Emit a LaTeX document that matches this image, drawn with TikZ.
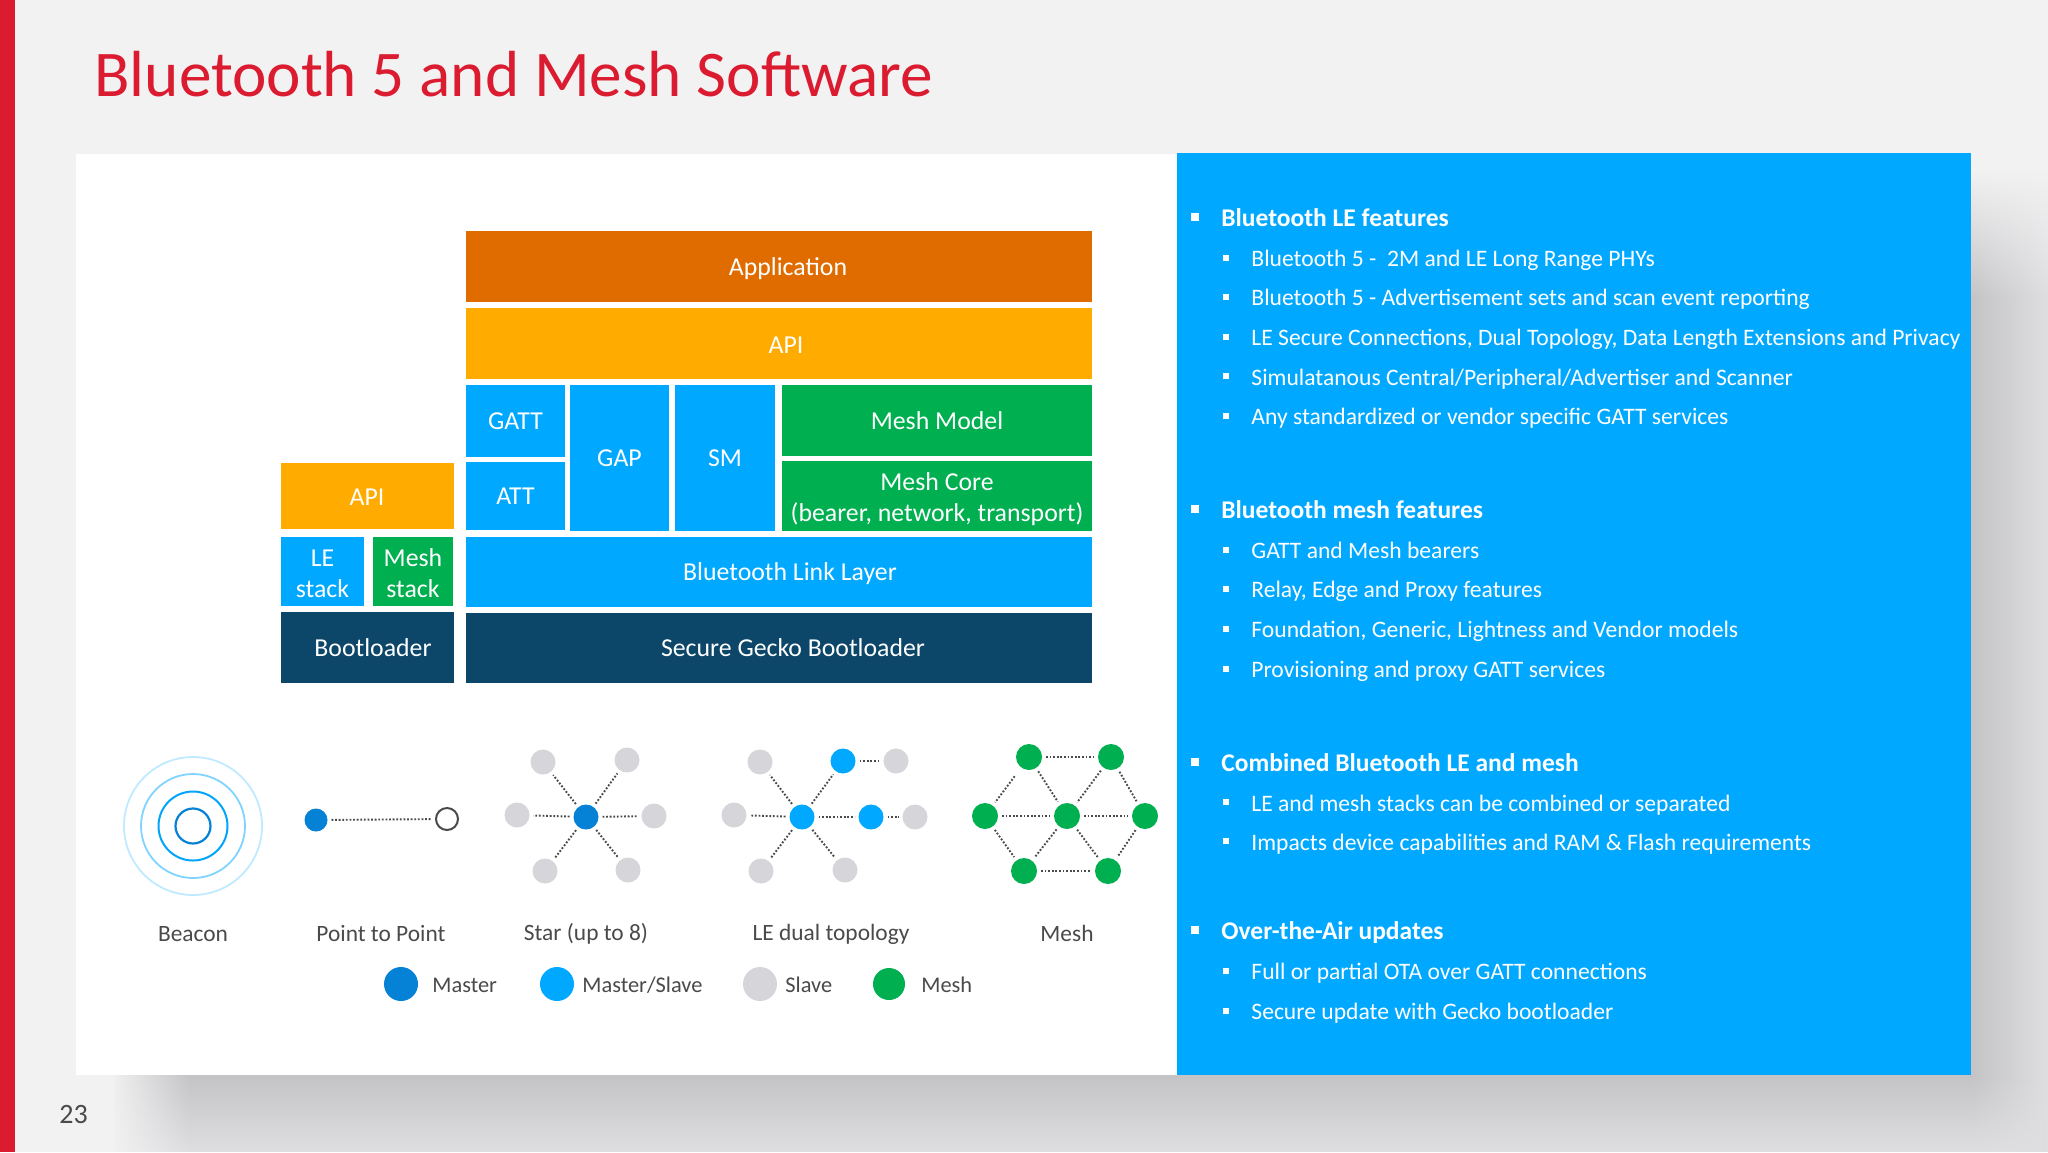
\documentclass[tikz,border=0pt]{standalone}
\usepackage{fontspec}
\setmainfont{Carlito}
\usetikzlibrary{fadings}

\definecolor{pagebg}{HTML}{F2F2F3}
\definecolor{shadowgrey}{HTML}{C4C3C5}
\definecolor{shadowend}{HTML}{DFDFE1}
\definecolor{slidered}{HTML}{DB1C30}
\definecolor{skyblue}{HTML}{00A9FF}
\definecolor{meshgreen}{HTML}{00AF50}
\definecolor{burnt}{HTML}{E06C00}
\definecolor{amber}{HTML}{FFAB00}
\definecolor{navy}{HTML}{0C4668}
\definecolor{masterblue}{HTML}{0581D5}
\definecolor{slavegrey}{HTML}{D6D5D9}
\definecolor{textgrey}{HTML}{4A4A4C}

\tikzset{
  block/.style 2 args={inner sep=0pt, outer sep=0pt, minimum width=#1*0.5pt, minimum height=#2*0.5pt},
  blocktext/.style={text=white, align=center, font=\fontsize{12.9}{15.5}\selectfont},
  caption/.style={text=textgrey, font=\fontsize{11.7}{14}\selectfont},
  keytext/.style={text=textgrey, anchor=west, inner sep=0pt, font=\fontsize{11.2}{14}\selectfont},
  dot/.style={circle, inner sep=0pt, outer sep=2pt, minimum size=12.5pt},
  master/.style={dot, fill=masterblue},
  both/.style={dot, fill=skyblue},
  slave/.style={dot, fill=slavegrey},
  meshdot/.style={dot, fill=meshgreen, minimum size=13pt},
  link/.style={draw=textgrey, line width=0.95pt, dash pattern=on 0.9pt off 0.9pt},
  ring/.style={circle, draw, fill=none, inner sep=0pt},
  key/.style={circle, inner sep=0pt, minimum size=17pt},
  headtext/.style={anchor=base west, text=white, inner sep=0pt, font=\fontsize{12.75}{14}\selectfont\bfseries},
  subtext/.style={anchor=base west, text=white, inner sep=0pt, font=\fontsize{11.8}{14}\selectfont},
  headmark/.style={fill=white, inner sep=0pt, minimum size=3.8pt},
  submark/.style={fill=white, inner sep=0pt, minimum size=3.4pt},
}

\begin{document}
\begin{tikzpicture}[x=0.5pt, y=-0.5pt]
    \useasboundingbox (0,0) rectangle (2048,1152);
    \fill [pagebg] (0,0) rectangle (2048,1152);

    % soft shadow under the panels
    \fill [shadowgrey] (1971,170) rectangle (2048,1152);
    \fill [shadowgrey] (110,1075) rectangle (1971,1152);
    \fill [shadowend, path fading=west] (1971,170) rectangle (2048,1152);
    \fill [shadowend, path fading=north] (110,1075) rectangle (2048,1152);
    \fill [pagebg, path fading=south] (1971,170) rectangle (2048,300);
    \fill [pagebg, path fading=east] (110,1075) rectangle (190,1152);
    \fill [pagebg] (100,1075) rectangle (114,1152);

    \fill [slidered] (0,0) rectangle (15,1152);
    \fill [white] (76,154) rectangle (1177,1075);
    \fill [skyblue] (1177,153) rectangle (1971,1075);

    \node [anchor=base west, text=slidered, inner sep=0pt, font=\fontsize{32.6}{36}\selectfont] (title) at (94,96) {Bluetooth 5 and Mesh Software};
    \node [anchor=base west, text=textgrey, inner sep=0pt, font=\fontsize{14}{18}\selectfont] (page) at (59,1123) {23};

    % protocol stack
    \node [block={626}{71}, fill=burnt] (appbox) at (779,266.5) {};
    \node [blocktext] (app) at (788,269) {Application};
    \node [block={626}{71}, fill=amber] (apibox) at (779,343.5) {};
    \node [blocktext] (api) at (786,345) {API};
    \node [block={99}{72}, fill=skyblue, blocktext] (gatt) at (515.5,421) {GATT};
    \node [block={99}{68}, fill=skyblue, blocktext] (att) at (515.5,496) {ATT};
    \node [block={99}{146}, fill=skyblue, blocktext] (gap) at (619.5,458) {GAP};
    \node [block={100}{146}, fill=skyblue, blocktext] (sm) at (725,458) {SM};
    \node [block={310}{71}, fill=meshgreen, blocktext] (model) at (937,420.5) {Mesh Model};
    \node [block={310}{70}, fill=meshgreen, blocktext] (core) at (937,496) {\rule{0pt}{11.8pt}Mesh Core\\(bearer, network, transport)};
    \node [block={626}{70}, fill=skyblue] (linkbox) at (779,572) {};
    \node [blocktext] (linklayer) at (790,574) {Bluetooth Link Layer};
    \node [block={626}{70}, fill=navy] (securebox) at (779,648) {};
    \node [blocktext] (secure) at (793,648) {Secure Gecko Bootloader};

    \node [block={173}{66}, fill=amber] (leftapibox) at (367.5,496) {};
    \node [blocktext] (leftapi) at (367,497) {API};
    \node [block={83}{69}, fill=skyblue, blocktext] (lestack) at (322.5,571.5) {\rule{0pt}{10.8pt}LE\\stack};
    \node [block={80}{69}, fill=meshgreen, blocktext] (meshstack) at (413,571.5) {\rule{0pt}{10.8pt}Mesh\\stack};
    \node [block={173}{71}, fill=navy] (bootbox) at (367.5,647.5) {};
    \node [blocktext] (boot) at (373,648) {Bootloader};

    % beacon
    \node [ring, draw=masterblue, line width=1.1pt, minimum size=17.5pt] (r1) at (193,826) {};
    \node [ring, draw=skyblue!90!masterblue, line width=1pt, minimum size=34.5pt] (r2) at (193,826) {};
    \node [ring, draw=skyblue!50, line width=0.9pt, minimum size=52pt] (r3) at (193,826) {};
    \node [ring, draw=skyblue!25, line width=0.9pt, minimum size=69pt] (r4) at (193,826) {};
    \node [caption] (c1) at (193,934) {Beacon};

    % point to point
    \node [master, minimum size=11.5pt] (p1) at (316,820) {};
    \node [dot, draw=textgrey, line width=1pt, fill=white, minimum size=11pt] (p2) at (447,819) {};
    \draw [link] (p1) -- (p2);
    \node [caption] (c2) at (381,934) {Point to Point};

    % star
    \node [master] (s0) at (586,817) {};
    \node [slave] (s1) at (543,762) {};
    \node [slave] (s2) at (517,815) {};
    \node [slave] (s3) at (545,871) {};
    \node [slave] (s4) at (627,760) {};
    \node [slave] (s5) at (654,816) {};
    \node [slave] (s6) at (628,870) {};
    \draw [link] (s0) -- (s1);
    \draw [link] (s0) -- (s2);
    \draw [link] (s0) -- (s3);
    \draw [link] (s0) -- (s4);
    \draw [link] (s0) -- (s5);
    \draw [link] (s0) -- (s6);
    \node [caption] (c3) at (586,934) {Star (up to 8)};

    % dual topology
    \node [both] (d0) at (802,817) {};
    \node [both] (d1) at (843,761) {};
    \node [both] (d2) at (871,817) {};
    \node [slave] (d3) at (760,762) {};
    \node [slave] (d4) at (734,815) {};
    \node [slave] (d5) at (761,871) {};
    \node [slave] (d6) at (845,870) {};
    \node [slave] (d7) at (896,761) {};
    \node [slave] (d8) at (915,817) {};
    \draw [link] (d0) -- (d1);
    \draw [link] (d0) -- (d2);
    \draw [link] (d0) -- (d3);
    \draw [link] (d0) -- (d4);
    \draw [link] (d0) -- (d5);
    \draw [link] (d0) -- (d6);
    \draw [link] (d1) -- (d7);
    \draw [link] (d2) -- (d8);
    \node [caption] (c4) at (831,934) {LE dual topology};

    % mesh
    \node [meshdot] (m0) at (1067,816) {};
    \node [meshdot] (m1) at (1029,757) {};
    \node [meshdot] (m2) at (1111,757) {};
    \node [meshdot] (m3) at (985,816) {};
    \node [meshdot] (m4) at (1145,816) {};
    \node [meshdot] (m5) at (1024,871) {};
    \node [meshdot] (m6) at (1108,871) {};
    \draw [link] (m1) -- (m2);
    \draw [link] (m1) -- (m0);
    \draw [link] (m2) -- (m0);
    \draw [link, shorten <=3.5pt] (m1) -- (m3);
    \draw [link] (m2) -- (m4);
    \draw [link] (m3) -- (m0);
    \draw [link] (m0) -- (m4);
    \draw [link] (m3) -- (m5);
    \draw [link] (m0) -- (m5);
    \draw [link] (m0) -- (m6);
    \draw [link] (m4) -- (m6);
    \draw [link] (m5) -- (m6);
    \node [caption] (c5) at (1067,933) {Mesh};

    % legend
    \node [key, fill=masterblue] (k1) at (401,984) {};
    \node [keytext] (l1) at (432,985) {Master};
    \node [key, fill=skyblue] (k2) at (557,984) {};
    \node [keytext] (l2) at (582,985) {Master/Slave};
    \node [key, fill=slavegrey] (k3) at (760,984) {};
    \node [keytext] (l3) at (785,985) {Slave};
    \node [key, fill=meshgreen, minimum size=16pt] (k4) at (889,984) {};
    \node [keytext] (l4) at (921,985) {Mesh};

    % feature lists
    \node [headmark] (b1) at (1195,217) {};
    \node [headtext] (t1) at (1221,226) {Bluetooth LE features};
    \node [submark] (b2) at (1226,258) {};
    \node [subtext] (t2) at (1251,266) {Bluetooth 5 -\ \ 2M and LE Long Range PHYs};
    \node [submark] (b3) at (1226,297) {};
    \node [subtext] (t3) at (1251,305) {Bluetooth 5 - Advertisement sets and scan event reporting};
    \node [submark] (b4) at (1226,337) {};
    \node [subtext] (t4) at (1251,345) {LE Secure Connections, Dual Topology, Data Length Extensions and Privacy};
    \node [submark] (b5) at (1226,376) {};
    \node [subtext] (t5) at (1251,385) {Simulatanous Central/Peripheral/Advertiser and Scanner};
    \node [submark] (b6) at (1226,416) {};
    \node [subtext] (t6) at (1251,424) {Any standardized or vendor specific GATT services};

    \node [headmark] (b7) at (1195,509) {};
    \node [headtext] (t7) at (1221,518) {Bluetooth mesh features};
    \node [submark] (b8) at (1226,550) {};
    \node [subtext] (t8) at (1251,558) {GATT and Mesh bearers};
    \node [submark] (b9) at (1226,589) {};
    \node [subtext] (t9) at (1251,597) {Relay, Edge and Proxy features};
    \node [submark] (b10) at (1226,629) {};
    \node [subtext] (t10) at (1251,637) {Foundation, Generic, Lightness and Vendor models};
    \node [submark] (b11) at (1226,669) {};
    \node [subtext] (t11) at (1251,677) {Provisioning and proxy GATT services};

    \node [headmark] (b12) at (1195,762) {};
    \node [headtext] (t12) at (1221,771) {Combined Bluetooth LE and mesh};
    \node [submark] (b13) at (1226,802) {};
    \node [subtext] (t13) at (1251,811) {LE and mesh stacks can be combined or separated};
    \node [submark] (b14) at (1226,841) {};
    \node [subtext] (t14) at (1251,850) {Impacts device capabilities and RAM \& Flash requirements};

    \node [headmark] (b15) at (1195,930) {};
    \node [headtext] (t15) at (1221,939) {Over-the-Air updates};
    \node [submark] (b16) at (1226,971) {};
    \node [subtext] (t16) at (1251,979) {Full or partial OTA over GATT connections};
    \node [submark] (b17) at (1226,1011) {};
    \node [subtext] (t17) at (1251,1019) {Secure update with Gecko bootloader};
\end{tikzpicture}
\end{document}
